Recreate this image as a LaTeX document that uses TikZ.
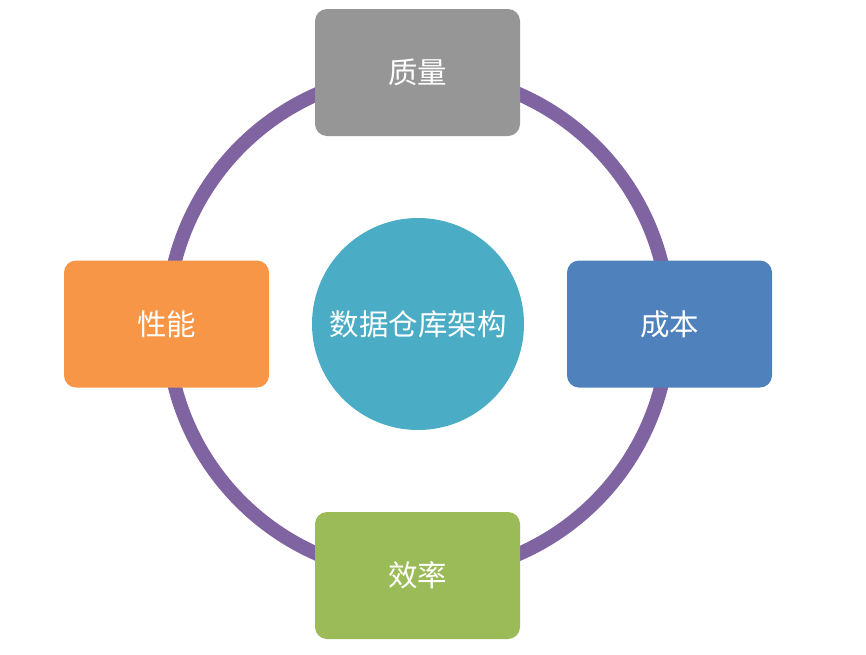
\documentclass[tikz,border=0pt]{standalone}
\usepackage{fontspec}
\newfontfamily\cjk{Noto Sans CJK SC}
\definecolor{ringpurple}{HTML}{8064A2}
\definecolor{hubteal}{HTML}{4BACC6}
\definecolor{boxgray}{HTML}{969696}
\definecolor{boxorange}{HTML}{F79646}
\definecolor{boxblue}{HTML}{4F81BD}
\definecolor{boxgreen}{HTML}{9BBB59}
\tikzset{
  aspect/.style={rectangle, rounded corners=12pt, minimum width=205pt, minimum height=127pt,
    text=white, font=\cjk\fontsize{29.5}{29.5}\selectfont, inner sep=0pt},
  hub/.style={circle, fill=hubteal, minimum size=212pt, inner sep=0pt,
    text=white, font=\cjk\fontsize{29.5}{29.5}\selectfont}
}
\begin{document}
\begin{tikzpicture}[x=1pt,y=-1pt]
        \useasboundingbox (0,0) rectangle (866,654);
        \draw[ringpurple, line width=14pt] (418,324) circle (251);
        \node[hub] (hub) at (418,324) {数据仓库架构};
        \node[aspect, fill=boxgray] (quality) at (417.5,72.5) {质量};
        \node[aspect, fill=boxorange] (perf) at (166.5,324) {性能};
        \node[aspect, fill=boxblue] (cost) at (669.5,324) {成本};
        \node[aspect, fill=boxgreen] (effic) at (417.5,575.5) {效率};
    \end{tikzpicture}
\end{document}
